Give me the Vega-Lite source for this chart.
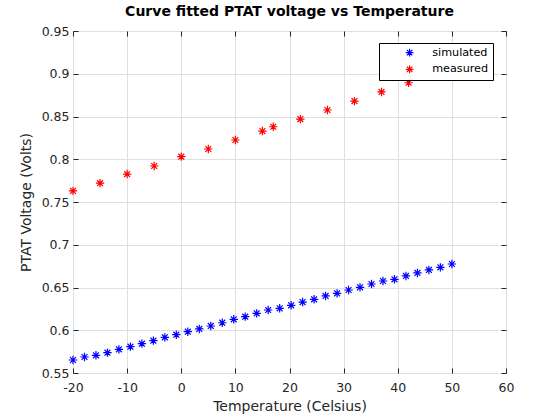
{
  "$schema": "https://vega.github.io/schema/vega-lite/v6.json",
  "width": 433,
  "height": 342,
  "autosize": "none",
  "padding": {"left": 73, "top": 31, "right": 54, "bottom": 47},
  "background": "white",
  "title": {"text": "Curve fitted PTAT voltage vs Temperature", "font": "DejaVu Sans", "fontSize": 14, "fontWeight": "bold", "color": "black", "offset": 6},
  "config": {
    "view": {"stroke": "black", "strokeWidth": 1},
    "axis": {"labelFont": "DejaVu Sans", "labelFontSize": 12.5, "labelColor": "#262626", "labelFlush": false, "titleFont": "DejaVu Sans", "titleFontSize": 14, "titleFontWeight": "normal", "titleColor": "#262626", "gridColor": "#dfdfdf", "domain": false, "tickColor": "#262626", "tickSize": -5}
  },
  "datasets": {
    "sim": [
      {"t": -20, "v": 0.5652, "s": "simulated"},
      {"t": -17.879, "v": 0.5687, "s": "simulated"},
      {"t": -15.758, "v": 0.5707, "s": "simulated"},
      {"t": -13.636, "v": 0.5738, "s": "simulated"},
      {"t": -11.515, "v": 0.5777, "s": "simulated"},
      {"t": -9.394, "v": 0.5808, "s": "simulated"},
      {"t": -7.273, "v": 0.5843, "s": "simulated"},
      {"t": -5.152, "v": 0.5878, "s": "simulated"},
      {"t": -3.030, "v": 0.5917, "s": "simulated"},
      {"t": -0.909, "v": 0.5948, "s": "simulated"},
      {"t": 1.212, "v": 0.5983, "s": "simulated"},
      {"t": 3.333, "v": 0.6015, "s": "simulated"},
      {"t": 5.455, "v": 0.6050, "s": "simulated"},
      {"t": 7.576, "v": 0.6088, "s": "simulated"},
      {"t": 9.697, "v": 0.6128, "s": "simulated"},
      {"t": 11.818, "v": 0.6159, "s": "simulated"},
      {"t": 13.939, "v": 0.6198, "s": "simulated"},
      {"t": 16.061, "v": 0.6237, "s": "simulated"},
      {"t": 18.182, "v": 0.6257, "s": "simulated"},
      {"t": 20.303, "v": 0.6292, "s": "simulated"},
      {"t": 22.424, "v": 0.6330, "s": "simulated"},
      {"t": 24.545, "v": 0.6362, "s": "simulated"},
      {"t": 26.667, "v": 0.6401, "s": "simulated"},
      {"t": 28.788, "v": 0.6432, "s": "simulated"},
      {"t": 30.909, "v": 0.6471, "s": "simulated"},
      {"t": 33.030, "v": 0.6502, "s": "simulated"},
      {"t": 35.152, "v": 0.6541, "s": "simulated"},
      {"t": 37.273, "v": 0.6576, "s": "simulated"},
      {"t": 39.394, "v": 0.6596, "s": "simulated"},
      {"t": 41.515, "v": 0.6635, "s": "simulated"},
      {"t": 43.636, "v": 0.6670, "s": "simulated"},
      {"t": 45.758, "v": 0.6705, "s": "simulated"},
      {"t": 47.879, "v": 0.6736, "s": "simulated"},
      {"t": 50, "v": 0.6775, "s": "simulated"}
    ],
    "meas": [
      {"t": -20, "v": 0.763, "s": "measured"},
      {"t": -15, "v": 0.772, "s": "measured"},
      {"t": -10, "v": 0.7827, "s": "measured"},
      {"t": -5, "v": 0.7921, "s": "measured"},
      {"t": 0, "v": 0.803, "s": "measured"},
      {"t": 5, "v": 0.812, "s": "measured"},
      {"t": 10, "v": 0.8225, "s": "measured"},
      {"t": 15, "v": 0.833, "s": "measured"},
      {"t": 17, "v": 0.838, "s": "measured"},
      {"t": 22, "v": 0.847, "s": "measured"},
      {"t": 27, "v": 0.8576, "s": "measured"},
      {"t": 32, "v": 0.868, "s": "measured"},
      {"t": 37, "v": 0.8787, "s": "measured"},
      {"t": 42, "v": 0.8895, "s": "measured"}
    ]
  },
  "layer": [
    {
      "data": {"name": "sim"},
      "mark": {"type": "point", "shape": "M-1,0L1,0M0,-1L0,1M-0.7,-0.7L0.7,0.7M-0.7,0.7L0.7,-0.7", "filled": false, "size": 70, "strokeWidth": 1.2, "opacity": 1},
      "encoding": {
        "x": {"field": "t", "type": "quantitative", "scale": {"domain": [-20, 60], "nice": false, "zero": false}, "axis": {"title": "Temperature (Celsius)", "values": [-20, -10, 0, 10, 20, 30, 40, 50, 60], "labelPadding": 13, "titlePadding": 6, "labelExpr": "replace(datum.label, '−', '-')"}},
        "y": {"field": "v", "type": "quantitative", "scale": {"domain": [0.55, 0.95], "nice": false, "zero": false}, "axis": {"title": "PTAT Voltage (Volts)", "values": [0.55, 0.6, 0.65, 0.7, 0.75, 0.8, 0.85, 0.9, 0.95], "labelPadding": 9, "titlePadding": 8, "labelExpr": "format(datum.value, '.2~f')"}},
        "color": {"field": "s", "type": "nominal", "scale": {"domain": ["simulated", "measured"], "range": ["#0000ff", "#ff0000"]}, "legend": {"title": null, "orient": "none", "legendX": 306, "legendY": 12, "strokeColor": "black", "fillColor": "white", "padding": 4, "rowPadding": 3.7, "symbolType": "M-1,0L1,0M0,-1L0,1M-0.7,-0.7L0.7,0.7M-0.7,0.7L0.7,-0.7", "symbolSize": 60, "symbolStrokeWidth": 1.2, "symbolOffset": 21, "labelOffset": 17, "labelFont": "DejaVu Sans", "labelFontSize": 11.2, "labelColor": "black"}}
      }
    },
    {
      "data": {"name": "meas"},
      "mark": {"type": "point", "shape": "M-1,0L1,0M0,-1L0,1M-0.7,-0.7L0.7,0.7M-0.7,0.7L0.7,-0.7", "filled": false, "size": 70, "strokeWidth": 1.2, "opacity": 1},
      "encoding": {
        "x": {"field": "t", "type": "quantitative", "axis": {"orient": "top", "title": null, "labels": false, "grid": false, "values": [-20, -10, 0, 10, 20, 30, 40, 50, 60]}},
        "y": {"field": "v", "type": "quantitative", "axis": {"orient": "right", "title": null, "labels": false, "grid": false, "values": [0.55, 0.6, 0.65, 0.7, 0.75, 0.8, 0.85, 0.9, 0.95]}},
        "color": {"field": "s", "type": "nominal"}
      }
    }
  ],
  "resolve": {"axis": {"x": "independent", "y": "independent"}}
}
